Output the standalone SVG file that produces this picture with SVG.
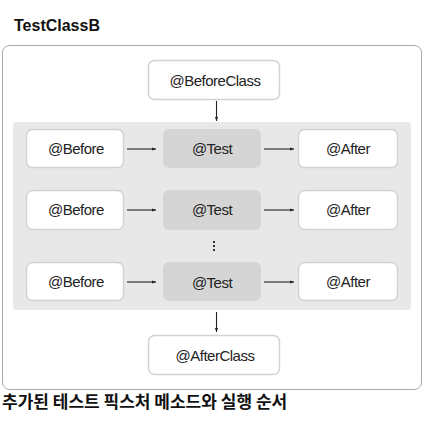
<svg xmlns="http://www.w3.org/2000/svg" width="435" height="427" viewBox="0 0 435 427">
<defs>
<style>
.lbl{font-family:"Liberation Sans",Arial,sans-serif;font-size:15px;fill:#222;text-anchor:middle;letter-spacing:-0.5px}
.wbox{fill:#fff;stroke:#d2d2d2;stroke-width:1.5}
.tbox{fill:#d5d5d5}
.conn{stroke:#222;stroke-width:1.1;fill:none;marker-end:url(#ah)}
</style>
<marker id="ah" viewBox="0 0 10 10" refX="10" refY="5" markerWidth="4.5" markerHeight="4.5" orient="auto" markerUnits="userSpaceOnUse">
<path d="M0,1 L10,5 L0,9 z" fill="#222"/>
</marker>
</defs>
<rect width="435" height="427" fill="#fff"/>
<text x="14" y="31" font-family="'Liberation Sans',Arial,sans-serif" font-size="16" font-weight="bold" fill="#111">TestClassB</text>
<rect id="frame" x="2.5" y="45.5" width="419" height="344" rx="7" fill="#fff" stroke="#a8a8a8" stroke-width="1"/>
<rect id="band" x="13" y="122" width="398" height="188" rx="4" fill="#e8e8e8"/>
<g id="beforeClass"><rect class="wbox" x="148.5" y="60.5" width="131" height="39" rx="6"/><text class="lbl" x="215" y="85.5">@BeforeClass</text></g>
<g id="before1"><rect class="wbox" x="26.5" y="129.5" width="97" height="38" rx="6"/><text class="lbl" x="76" y="154">@Before</text></g>
<g id="test1"><rect class="tbox" x="163" y="129" width="98" height="39" rx="6"/><text class="lbl" x="212" y="154">@Test</text></g>
<g id="after1"><rect class="wbox" x="298.5" y="129.5" width="99" height="38" rx="6"/><text class="lbl" x="348" y="154">@After</text></g>
<g id="before2"><rect class="wbox" x="26.5" y="190.5" width="97" height="39" rx="6"/><text class="lbl" x="76" y="215">@Before</text></g>
<g id="test2"><rect class="tbox" x="163" y="190" width="98" height="40" rx="6"/><text class="lbl" x="212" y="215">@Test</text></g>
<g id="after2"><rect class="wbox" x="298.5" y="190.5" width="99" height="39" rx="6"/><text class="lbl" x="348" y="215">@After</text></g>
<g id="dots" fill="#333"><rect x="213" y="241" width="2" height="2"/><rect x="213" y="245" width="2" height="2"/><rect x="213" y="249" width="2" height="2"/></g>
<g id="before3"><rect class="wbox" x="26.5" y="262.5" width="97" height="38" rx="6"/><text class="lbl" x="76" y="287">@Before</text></g>
<g id="test3"><rect class="tbox" x="163" y="262" width="98" height="39" rx="6"/><text class="lbl" x="212" y="288">@Test</text></g>
<g id="after3"><rect class="wbox" x="298.5" y="262.5" width="99" height="38" rx="6"/><text class="lbl" x="348" y="287">@After</text></g>
<g id="afterClass"><rect class="wbox" x="148.5" y="335.5" width="131" height="39" rx="6"/><text class="lbl" x="215" y="360.5">@AfterClass</text></g>
<g id="connectors">
<line class="conn" x1="216.5" y1="101" x2="216.5" y2="121"/>
<line class="conn" x1="127" y1="149" x2="156" y2="149"/>
<line class="conn" x1="264" y1="149" x2="294" y2="149"/>
<line class="conn" x1="127" y1="210" x2="156" y2="210"/>
<line class="conn" x1="264" y1="210" x2="294" y2="210"/>
<line class="conn" x1="127" y1="282" x2="156" y2="282"/>
<line class="conn" x1="264" y1="282" x2="294" y2="282"/>
<line class="conn" x1="216.5" y1="312" x2="216.5" y2="332"/>
</g>
<text x="2" y="408" font-family="'Noto Sans CJK KR','Noto Sans',sans-serif" font-size="17" font-weight="bold" fill="#111">추가된 테스트 픽스처 메소드와 실행 순서</text>
</svg>
